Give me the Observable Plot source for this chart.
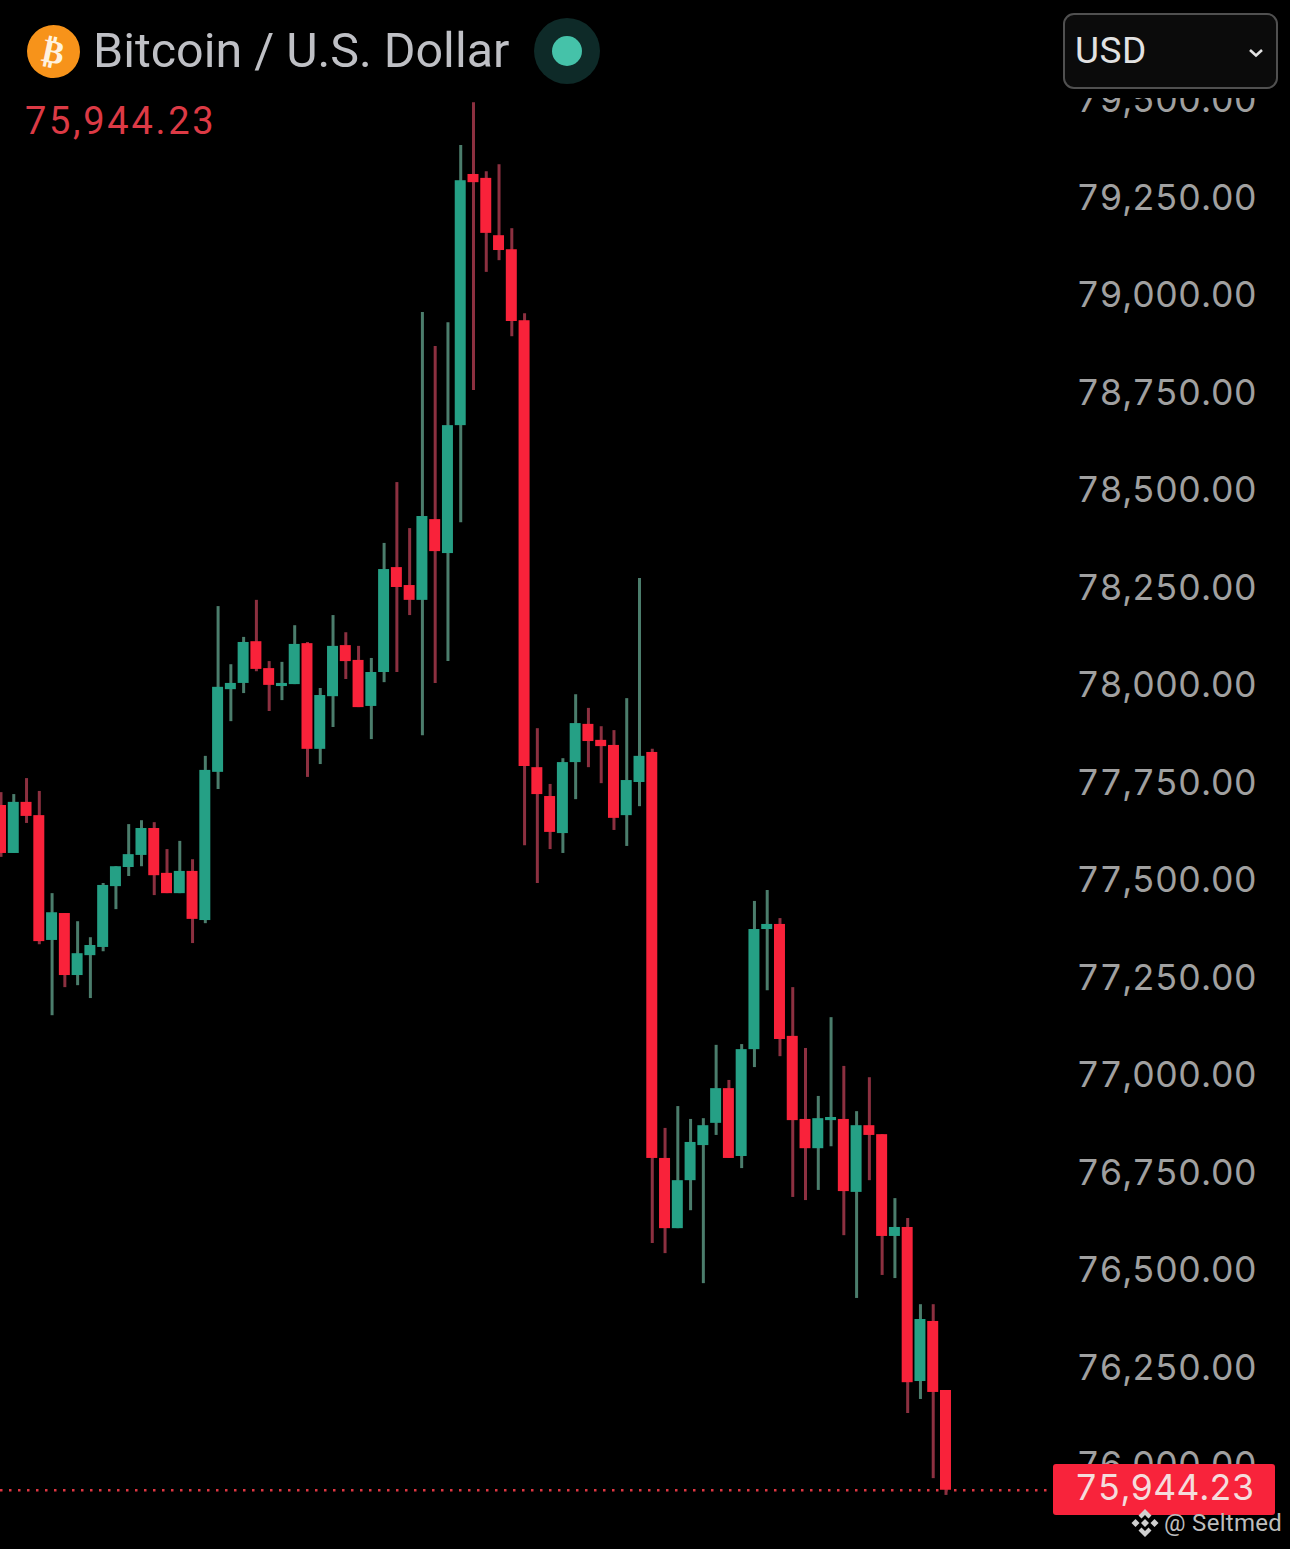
<!DOCTYPE html>
<html>
<head>
<meta charset="utf-8">
<script src="https://cdn.jsdelivr.net/npm/d3@7"></script>
<script src="https://cdn.jsdelivr.net/npm/@observablehq/plot@0.6"></script>
<style>
html,body{margin:0;padding:0;background:#000;width:1290px;height:1549px;overflow:hidden}
#wrap{position:relative;width:1290px;height:1549px;font-family:Roboto,sans-serif}
#wrap svg{display:block}
.abs{position:absolute;white-space:nowrap}
#cover{left:0;top:0;width:1290px;height:98px;background:#000}
#coin{left:27px;top:25px;width:53px;height:53px;border-radius:50%;background:#f7931a;color:#fff2df;font:700 33px/53px "DejaVu Sans";text-align:center;transform:rotate(12deg)}
#title{left:93px;top:23px;font:400 48.4px/56px Roboto;color:#bfc0c5}
#live{left:534px;top:18px;width:66px;height:66px;border-radius:50%;background:#0e2a28}
#live i{position:absolute;left:18px;top:18px;width:30px;height:30px;border-radius:50%;background:#45c2a9}
#price{left:25px;top:98px;font:400 38px/46px Roboto;color:#dc3a45;letter-spacing:2.7px}
#select{left:1063px;top:13px;width:211px;height:72px;border:2.5px solid #505050;border-radius:11px;background:#0b0b0b}
#select b{position:absolute;left:10px;top:15px;font:400 37px/42px Roboto;color:#e2e2e2;letter-spacing:.5px}
#select svg{position:absolute;left:183px;top:33px}
#tag{left:1053px;top:1464px;width:222px;height:51px;border-radius:3px;background:#f8233b;color:#f5dcdc;font:400 35.5px/48px Inter;font-variant-numeric:tabular-nums;text-align:right;box-sizing:border-box;padding-right:20px}
#mark{left:1164px;top:1508px;font:400 24px/30px Roboto;color:#bdbdbd;letter-spacing:.3px}
#logo{left:1131px;top:1509px}
</style>
</head>
<body>
<div id="wrap">
  <div id="chart"></div>
  <div class="abs" id="cover"></div>
  <div class="abs" id="coin">₿</div>
  <div class="abs" id="title">Bitcoin / U.S. Dollar</div>
  <div class="abs" id="live"><i></i></div>
  <div class="abs" id="price">75,944.23</div>
  <div class="abs" id="select"><b>USD</b>
    <svg width="16" height="10" viewBox="0 0 16 10"><path d="M2 2 L8 7.5 L14 2" fill="none" stroke="#e2e2e2" stroke-width="2.6"/></svg>
  </div>
  <div class="abs" id="tag">75,944.23</div>
  <svg class="abs" id="logo" width="28" height="28" viewBox="0 0 28 28" fill="#d0d0d0">
    <path d="M14 0 L20.5 6.5 L17.5 9.5 L14 6 L10.5 9.5 L7.5 6.5Z M4.5 10 L8.5 14 L4.5 18 L0.5 14Z M23.5 10 L27.5 14 L23.5 18 L19.5 14Z M14 10 L18 14 L14 18 L10 14Z M14 28 L7.5 21.5 L10.5 18.5 L14 22 L17.5 18.5 L20.5 21.5Z"/>
  </svg>
  <div class="abs" id="mark">@ Seltmed</div>
</div>
<script>
const opens = [77700,77577,77708,77674,77354,77423,77264,77315,77336,77492,77541,77572,77641,77526,77474,77531,77405,77785,77997,78013,78120,78051,78005,78010,78115,77844,77979,78110,78072,77954,78041,78310,78264,78226,78433,78346,78674,79318,79308,79161,79125,78943,77797,77723,77628,77810,77908,77867,77854,77674,77759,77836,76795,76615,76738,76828,76885,76974,76800,77074,77382,77395,77108,76895,76820,76892,76895,76708,76879,76856,76595,76618,76223,76377,76200];
const closes = [77577,77708,77672,77351,77425,77264,77320,77341,77495,77543,77574,77641,77520,77474,77531,77408,77790,78003,78013,78118,78049,78008,78013,78113,77844,77982,78108,78069,77951,78041,78305,78259,78226,78441,78351,78674,79302,79297,79167,79123,78941,77800,77728,77631,77810,77910,77864,77851,77667,77764,77826,76795,76615,76738,76836,76879,76974,76795,77074,77382,77395,77100,76892,76820,76897,76900,76710,76879,76854,76595,76618,76220,76382,76195,75944.23];
const highs = [77733,77728,77769,77736,77474,77423,77402,77361,77500,77543,77651,77661,77656,77587,77608,77561,77826,78210,78061,78131,78226,78069,78067,78161,78118,78000,78187,78143,78108,78077,78372,78528,78410,78964,78877,78938,79392,79502,79325,79343,79179,78961,77897,77754,77820,77984,77949,77902,77892,77974,78282,77844,76872,76928,76895,76897,77085,76995,77087,77454,77482,77410,77233,77077,76954,77156,77031,76915,77002,76856,76692,76641,76420,76420,76200];
const lows = [77567,77577,77654,77343,77161,77233,77238,77205,77325,77433,77518,77543,77469,77474,77474,77346,77397,77741,77915,77987,78043,77941,77969,78010,77772,77805,77900,78023,77951,77869,78015,78041,78187,77879,78013,78069,78425,78764,79067,79097,78902,77597,77500,77587,77577,77715,77797,77756,77636,77595,77697,76577,76551,76615,76661,76474,76854,76795,76769,77028,77225,77056,76695,76687,76713,76825,76597,76436,76738,76495,76487,76141,76177,75974,75931];
const priceTicks = [76000,76250,76500,76750,77000,77250,77500,77750,78000,78250,78500,78750,79000,79250,79500];
const lastPrice = 75944.23;

const candles = opens.map((open, i) => ({i, open, close: closes[i], high: highs[i], low: lows[i]}));
const up = candles.filter(d => d.close >= d.open);
const down = candles.filter(d => d.close < d.open);

const GREEN = "#25a085", RED = "#f9223a", GREEN_WICK = "#4b7d6c", RED_WICK = "#8c3040";
const bodyHalf = 0.43;
const body = {x1: d => d.i - bodyHalf, x2: d => d.i + bodyHalf, y1: "open", y2: "close"};
const wick = {x: "i", y1: "low", y2: "high", strokeWidth: 3};

const chart = Plot.plot({
  width: 1290,
  height: 1549,
  marginTop: 0, marginBottom: 0, marginLeft: 0, marginRight: 214,
  style: {background: "#000", fontFamily: "Inter", fontSize: "35.5px", overflow: "hidden"},
  x: {domain: [-0.039, 84.22], axis: null},
  y: {domain: [75792.3, 79764.1], label: null},
  marks: [
    Plot.axisY(priceTicks, {anchor: "right", tickSize: 0, tickPadding: 0, tickFormat: d3.format(",.2f"), fill: "#a0a0a0", dy: -2.5, label: null}),
    Plot.ruleY([lastPrice], {stroke: "#e03642", strokeWidth: 2.5, strokeDasharray: "2.5,6.5"}),
    Plot.ruleX(up, {...wick, stroke: GREEN_WICK}),
    Plot.ruleX(down, {...wick, stroke: RED_WICK}),
    Plot.rect(up, {...body, fill: GREEN}),
    Plot.rect(down, {...body, fill: RED})
  ]
});
document.getElementById("chart").appendChild(chart);
</script>
</body>
</html>
